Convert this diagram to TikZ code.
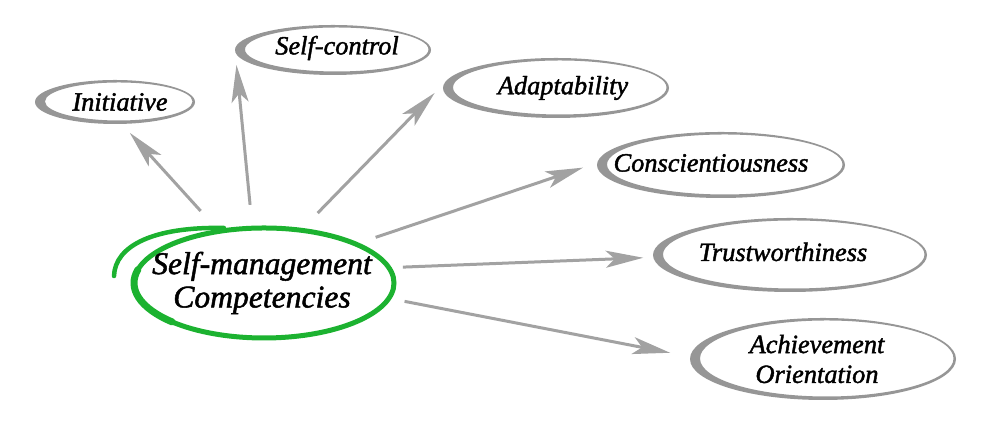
\documentclass[tikz,border=0pt]{standalone}
\usepackage{fontspec}
\setmainfont{Liberation Serif}
\newfontfamily\traitfont{Liberation Serif}[FakeBold=1.6]
\usetikzlibrary{shapes.geometric, arrows.meta, calc}
\definecolor{hubgreen}{RGB}{28,178,48}
\definecolor{ringgray}{RGB}{150,150,150}
\definecolor{linkgray}{RGB}{162,162,162}
\tikzset{
  hub/.style       = {ellipse, draw=hubgreen, line width=0.1cm, outer sep=0pt, inner sep=0pt,
                      minimum width=5.2cm, minimum height=2.2cm},
  trait/.style     = {ellipse, outer sep=0pt, inner sep=0pt},
  hubtext/.style   = {font=\traitfont\fontsize{18}{19}\selectfont\itshape, align=center, inner sep=0pt},
  traittext/.style = {font=\traitfont\fontsize{15}{17}\selectfont\itshape, align=center, inner sep=0pt},
  link/.style      = {-{Stealth[length=0.75cm, width=0.34cm, inset=0.18cm]}, line width=0.06cm,
                      draw=linkgray}
}

\begin{document}
\begin{tikzpicture}
\useasboundingbox (0,0) rectangle (20,8.5);

% Centre ellipse
\node[hub, label={[hubtext, xshift=-0.04cm]center:Self-management\\Competencies}]
  at (5.28,2.84) (hub) {};
\draw[hubgreen, line width=0.14cm, line cap=round]
  ($(hub.center)+(166:2.6cm and 1.1cm)$) arc [start angle=166, end angle=225, x radius=2.6cm, y radius=1.1cm];
\draw[hubgreen, line width=0.09cm, line cap=round]
  ($(hub.center)+(-3.0,0.14)$) .. controls ($(hub.center)+(-2.98,0.75)$) and ($(hub.center)+(-2.2,1.13)$)
  .. ($(hub.center)+(-0.8,1.1)$);

% Competencies
\node[trait, minimum width=3.2cm,  minimum height=0.88cm, label={[traittext, xshift=0.1cm]center:Initiative}]
  at (2.30,6.46) (init) {};
\node[trait, minimum width=3.92cm, minimum height=1.0cm,  label={[traittext, xshift=0.08cm, yshift=0.04cm]center:Self-control}]
  at (6.66,7.50) (selfctl) {};
\node[trait, minimum width=4.52cm, minimum height=1.2cm,  label={[traittext, xshift=0.14cm]center:Adaptability}]
  at (11.12,6.74) (adapt) {};
\node[trait, minimum width=4.96cm, minimum height=1.32cm, label={[traittext, xshift=-0.2cm, yshift=0.04cm]center:Conscientiousness}]
  at (14.42,5.20) (consc) {};
\node[trait, minimum width=5.48cm, minimum height=1.48cm, label={[traittext, xshift=-0.14cm, yshift=0.06cm]center:Trustworthiness}]
  at (15.80,3.40) (trust) {};
\node[trait, minimum width=5.32cm, minimum height=1.64cm, label={[traittext, xshift=-0.12cm]center:Achievement\\Orientation}]
  at (16.46,1.32) (achieve) {};

% Brush rings, thick on the left
\foreach \n/\rx/\ry in {init/1.6/0.44, selfctl/1.96/0.5, adapt/2.26/0.6,
                        consc/2.48/0.66, trust/2.74/0.74, achieve/2.66/0.82}
  \fill[ringgray, even odd rule] (\n.center) ellipse [x radius=\rx cm, y radius=\ry cm]
    ($(\n.center)+(0.075,0.01)$) ellipse [x radius=\rx cm-0.125cm, y radius=\ry cm-0.06cm];

% Arrows
\draw[link, shorten <=0.55cm, shorten >=0.24cm] (hub.131) -- (init.287);
\draw[link, shorten <=0.47cm, shorten >=0.3cm]  (hub.102) -- (selfctl.west);
\draw[link, shorten <=0.48cm, shorten >=0.3cm]  (hub.55)  -- (adapt.177);
\draw[link, shorten <=0.42cm, shorten >=0.3cm]  (hub.23)  -- (consc.179);
\draw[link, shorten <=0.28cm, shorten >=0.2cm]  (hub.7)   -- (trust.181);
\draw[link, shorten <=0.32cm, shorten >=0.41cm] (hub.353) -- (achieve.179);
\end{tikzpicture}
\end{document}
